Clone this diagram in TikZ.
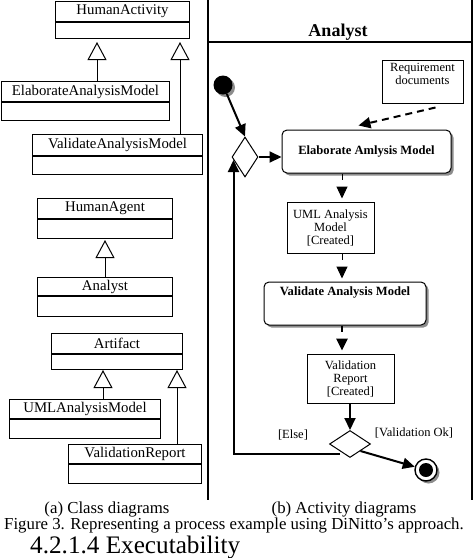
\documentclass[tikz,border=0pt]{standalone}
\usepackage{fontspec}
\setmainfont{Liberation Serif}
\usepackage{tikz}
\tikzset{
  class_font/.style = {font=\fontsize{14.8}{16}\selectfont},
  act_font/.style = {font=\fontsize{12.5}{13}\selectfont},
  action_font/.style = {font=\fontsize{12.6}{13}\selectfont\bfseries},
  caption_font/.style = {font=\fontsize{16.8}{18}\selectfont},
  grey_shadow/.style = {drop shadow={shadow xshift=2.5pt, shadow yshift=-2.5pt, fill=black!45, opacity=1}}
}
\tikzset{
  class_head/.style = {class_font, draw, line width=1, inner sep=0, minimum height=20, anchor=north west},
  class_body/.style = {draw, line width=1, inner sep=0, anchor=north west},
  gen/.style = {-{Triangle[open, length=18, width=19]}, line width=1},
  action/.style = {action_font, draw, line width=1, rounded corners=5, fill=white, grey_shadow, inner sep=0},
  object_node/.style = {act_font, draw, line width=1, align=center, inner sep=0},
  decision/.style = {diamond, draw, line width=1, inner sep=0, fill=white},
  initial_node/.style = {circle, fill=black, inner sep=0, minimum size=19, grey_shadow},
  final_node/.style = {circle, draw, line width=1.4, fill=white, inner sep=0, grey_shadow},
  flow/.style = {-{Triangle[length=12, width=11]}, line width=2},
  obj_flow/.style = {flow, line width=1, dash pattern=on 6pt off 12pt, shorten >=3pt},
  note_flow/.style = {flow, dash pattern=on 7pt off 5pt},
  guard/.style = {act_font, inner sep=0},
  lane_line/.style = {line width=1.3}
}
\usetikzlibrary{arrows.meta, shapes.geometric, shadows, calc}

\begin{document}
\begin{tikzpicture}[x=1pt, y=-1pt]
        \useasboundingbox (0,0) rectangle (474,558);

        % Class diagrams
        \node[class_head, minimum width=134] at (55,1) (ha) {HumanActivity};
        \node[class_body, minimum width=134, minimum height=16] at (ha.south west) (ha_b) {};
        \node[class_head, minimum width=168] at (1,81) (eam) {ElaborateAnalysisModel};
        \node[class_body, minimum width=168, minimum height=18] at (eam.south west) (eam_b) {};
        \node[class_head, minimum width=170, minimum height=21] at (32,134) (vam) {ValidateAnalysisModel};
        \node[class_body, minimum width=170, minimum height=18] at (vam.south west) (vam_b) {};

        \node[class_head, minimum width=135] at (37,198) (hag) {HumanAgent};
        \node[class_body, minimum width=135, minimum height=19] at (hag.south west) (hag_b) {};
        \node[class_head, minimum width=135, minimum height=18] at (37,277) (an) {Analyst};
        \node[class_body, minimum width=135, minimum height=20] at (an.south west) (an_b) {};

        \node[class_head, minimum width=131] at (51,333) (art) {Artifact};
        \node[class_body, minimum width=131, minimum height=15] at (art.south west) (art_b) {};
        \node[class_head, minimum width=151, minimum height=19] at (9,399) (uam) {UMLAnalysisModel};
        \node[class_body, minimum width=151, minimum height=19] at (uam.south west) (uam_b) {};
        \node[class_head, minimum width=133, minimum height=19] at (68,444) (vr_c) {ValidationReport};
        \node[class_body, minimum width=133, minimum height=19] at (vr_c.south west) (vr_c_b) {};

        % Generalizations
        \coordinate (ha_l) at (97,42);
        \coordinate (ha_r) at (180,42);
        \coordinate (hag_c) at (105,240);
        \coordinate (art_l) at (103,370);
        \coordinate (art_r) at (177,370);
        \draw[gen] (eam.north -| ha_l) -- (ha_l);
        \draw[gen] (vam.north -| ha_r) -- (ha_r);
        \draw[gen] (an.north -| hag_c) -- (hag_c);
        \draw[gen] (uam.north -| art_l) -- (art_l);
        \draw[gen] (vr_c.north -| art_r) -- (art_r);

        % Swimlane
        \draw[lane_line] (208,0) -- (208,500);
        \draw[lane_line] (472,0) -- (472,500);
        \draw[lane_line] (208,42) -- (472,42);
        \node[font=\fontsize{18}{20}\selectfont\bfseries, anchor=base] at (338,36) (lane) {Analyst};

        % Activity diagram
        \node[initial_node] at (223,85) (init) {};
        \node[decision, minimum width=26, minimum height=40] at (245,157) (d1) {};
        \node[action, minimum width=169, minimum height=43] at (366.5,151.5) (elab) {Elaborate Amlysis Model};
        \node[object_node, minimum width=81, minimum height=43, text depth=15] at (422.5,81.5) (req) {Requirement\\documents};
        \node[object_node, minimum width=87, minimum height=51] at (330.5,227.5) (uml) {UML Analysis\\Model\\{[Created]}};
        \node[action, minimum width=162, minimum height=43, text depth=24] at (345,303.5) (val) {Validate Analysis Model};
        \node[object_node, minimum width=87, minimum height=49] at (350.5,378.5) (vrep) {Validation\\Report\\{[Created]}};
        \node[decision, minimum width=41, minimum height=27] at (350,444) (d2) {};
        \node[final_node, minimum size=22] at (426,470) (fin) {};
        \node[circle, fill=black, inner sep=0, minimum size=14] at (fin.center) (fin_in) {};

        \node[guard, anchor=base] at (293,438) (else) {[Else]};
        \node[guard, anchor=base] at (414,436) (ok) {[Validation Ok]};

        % Arrows and lines
        \coordinate (flow_x) at (342,0);
        \draw[flow] (init) -- (d1.north);
        \draw[flow] (d1.east) -- (d1.east -| elab.west);
        \draw[note_flow] ($(req.south)+(13,4)$) -- ($(elab.north)+(-8,-4)$);
        \draw[obj_flow] (elab.south -| flow_x) -- (uml.north -| flow_x);
        \draw[obj_flow] (uml.south -| flow_x) -- (val.north -| flow_x);
        \draw[obj_flow, line width=2.5] (val.south -| flow_x) -- (vrep.north -| flow_x);
        \draw[flow] (vrep.south -| d2.north) -- (d2.north);
        \draw[flow] ($(d2.south west)+(0,3)$) -| ($(d1.west)+(2,3)$);
        \draw[flow] (d2.south east) -- (fin);

        % Captions
        \node[caption_font, anchor=base] at (107,513) (cap_a) {(a) Class diagrams};
        \node[caption_font, anchor=base] at (344,513) (cap_b) {(b) Activity diagrams};
        \node[caption_font, anchor=base] at (234,529) (fig) {Figure 3. Representing a process example using DiNitto’s approach.};
        \node[font=\fontsize{25.2}{27}\selectfont, inner sep=0, anchor=base west] at (30,553) (sec) {4.2.1.4 Executability};
\end{tikzpicture}
\end{document}
